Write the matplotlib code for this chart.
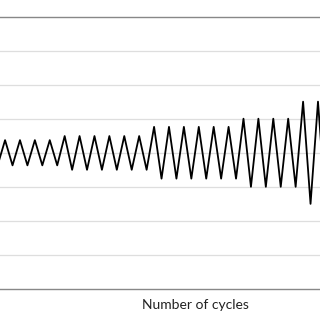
import matplotlib.pyplot as plt
import numpy as np

# alternating trough / peak values, in grid units
values = [-0.37, 0.37, -0.37, 0.37, -0.37, 0.37, -0.37, 0.37, -0.37,
          0.49, -0.5, 0.49, -0.5, 0.49, -0.5, 0.49, -0.5, 0.49, -0.5, 0.49, -0.5,
          0.76, -0.76, 0.76, -0.76, 0.76, -0.76, 0.76, -0.76, 0.76, -0.76, 0.76, -0.76,
          1.0, -1.0, 1.0, -1.0, 1.0, -1.0, 1.0, -1.0,
          1.5, -1.5, 1.5, -1.5]
x = np.arange(len(values))
grid_levels = [-4, -3, -2, -1, 0, 1, 2, 3, 4]

fig = plt.figure(figsize=(3.2, 3.2), dpi=100)
ax = fig.add_axes([0, 31 / 320, 1, 272.5 / 320])

for g in grid_levels[1:-1]:
    ax.axhline(g, color="#dedede", lw=0.9, zorder=0)

ax.plot(x, values, color="black", lw=1.3)

ax.set_xlim(0.32, 43.27)
ax.set_ylim(-4, 4)
ax.set_xticks([])
ax.set_yticks([])
for side in ["left", "right"]:
    ax.spines[side].set_visible(False)
for side in ["top", "bottom"]:
    ax.spines[side].set_color("#888888")
    ax.spines[side].set_linewidth(1.0)

fig.text(195.5 / 320, 15 / 320, "Number of cycles", ha="center", va="center",
         fontsize=10, family="Lato", color="#222222")

fig.savefig("out.png", dpi=100)
